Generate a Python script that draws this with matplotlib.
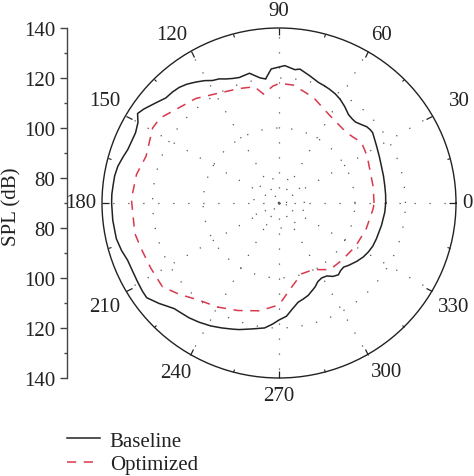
import numpy as np
import matplotlib
matplotlib.use("Agg")
import matplotlib.pyplot as plt

plt.rcParams['font.family'] = ['Liberation Serif', 'DejaVu Serif']

# curvas (grados, dB)
ang_base = [0, 4.6, 9.3, 14.6, 20, 25, 30.5, 34, 37.2, 39, 41.3, 44, 47, 49.5, 52.2, 56, 59.7, 63, 66.3, 69, 72.1,
            76.5, 81.2, 83.3, 87.6, 90.4, 93.3, 96.1, 98.5, 102.7, 107.4, 110.3, 113, 115.5, 118.2, 121, 124.2,
            127.5, 130.5, 133.5, 136.8, 140, 143, 145, 147.4, 150, 153.7, 157, 160.3, 163.5, 167, 170.5, 174, 177,
            180, 186, 192.5, 197, 200.9, 205, 209.4, 213, 215.9, 220.2, 225.5, 232.2, 236.5, 241.2, 245.5, 250,
            252.8, 258, 263.5, 267, 270, 273.7, 277, 280.8, 284, 287.4, 293, 296, 299.4, 303, 306, 309.3, 312,
            314.9, 318, 322.8, 327, 331, 335, 339.7, 347.5, 355]
spl_base = [112.2, 112.3, 112.4, 112.7, 113.1, 113.8, 114.8, 115.6, 116.5, 116.5, 116.2, 115.2, 114.3, 114.4, 114.8,
            116.5, 118, 119, 119.7, 120.2, 120.7, 122.3, 124.2, 123.7, 125, 124.3, 123.7, 119.9, 120.6, 123.2,
            122.6, 123.1, 123.9, 125, 125.6, 127.1, 128.5, 129.9, 130.8, 131.2, 131.4, 132.8, 134.3, 135.4, 136.4,
            134.4, 133.3, 133.3, 133.5, 134.4, 135.4, 135.9, 136, 136.2, 136.2, 136.1, 135.9, 135.1, 134.1, 134,
            134.2, 134.5, 134.6, 132.2, 129.2, 128.1, 127.2, 126.1, 124.9, 123.7, 123, 121.5, 120.3, 118.5, 116.8,
            115.4, 112.8, 110.4, 109.6, 108.7, 106.5, 105, 104.4, 104.8, 106.3, 107.1, 106.4, 106.2, 107.2, 108.6,
            109.7, 110.4, 110.9, 111.1, 111.5, 112]

ang_opt = [0, 10.4, 28.3, 36.4, 46.4, 59.9, 72.2, 83.2, 89.7, 93, 98, 101.8, 108.9, 119.7, 128.2, 136, 144.1, 149,
           160.4, 168.5, 178.4, 192, 198.5, 207.3, 216, 222.7, 230.9, 239.7, 249.2, 259.9, 268.5, 271.3, 278.3,
           287.4, 296.9, 307.1, 317.2, 329.7, 333.5, 343.4, 356.4]
spl_opt = [107.6, 107.8, 109.6, 110.6, 108.8, 110.3, 114.4, 117.5, 117.9, 116.8, 114, 117.5, 118.4, 120.3, 123.2,
           124.9, 128, 128.3, 125.8, 127.5, 128.4, 128.3, 127.5, 127, 127, 123.8, 120.1, 118.2, 116, 113.8, 111.1,
           109.5, 104.1, 99.7, 99.9, 103.4, 103.8, 104.8, 105, 106, 107.3]

angulos = [0, 30, 60, 90, 120, 150, 180, 210, 240, 270, 300, 330]
angulos_menores = [15, 45, 75, 105, 135, 165, 195, 225, 255, 285, 315, 345]
anillos = [73, 80, 100, 120]
ticks_spl = [-70, -50, -30, -10, 10, 30, 50, 70]
etiquetas_spl = ['140', '120', '100', '80', '80', '100', '120', '140']
ticks_spl_menores = [-60, -40, -20, 0, 20, 40, 60]

W, H = 474, 477
fig = plt.figure(figsize=(W / 100, H / 100), dpi=100)

ax = fig.add_axes([102 / W, 1 - 379 / H, 354 / W, 350 / H], projection='polar')
ax.set_aspect('auto')

linea1, = ax.plot(np.radians(ang_base + ang_base[:1]), spl_base + spl_base[:1], color='#222222', lw=1.1, label='Baseline')
linea2, = ax.plot(np.radians(ang_opt + ang_opt[:1]), spl_opt + spl_opt[:1], color='#d8394c', lw=1.1,
                  dashes=(6, 5), label='Optimized')

ax.set_rlim(70, 140)
ax.set_yticks(anillos)
ax.set_yticklabels([])
ax.set_xticks(np.radians(angulos))
ax.set_xticklabels([])
ax.set_xticks(np.radians(angulos_menores), minor=True)
ax.tick_params(axis='x', which='major', direction='in', length=5, width=0.9, color='#222222', bottom=False, top=True)
ax.tick_params(axis='x', which='minor', direction='in', length=2.5, width=0.8, color='#222222', bottom=False, top=True)
ax.grid(True, color='#555555', lw=0.9, ls=(0, (1, 11)))
ax.spines['polar'].set_linewidth(1.0)
ax.spines['polar'].set_color('#222222')

# eje izquierdo de SPL
ax2 = fig.add_axes([67 / W, 1 - 379 / H, 1 / W, 350 / H])
ax2.patch.set_visible(False)
for lado in ['top', 'right', 'bottom']:
    ax2.spines[lado].set_visible(False)
ax2.spines['left'].set_linewidth(1.0)
ax2.spines['left'].set_color('#444444')
ax2.set_xticks([])
ax2.set_ylim(-70, 70)
ax2.set_yticks(ticks_spl)
ax2.set_yticklabels(etiquetas_spl, fontsize=15, color='#222222')
ax2.set_yticks(ticks_spl_menores, minor=True)
ax2.tick_params(axis='y', which='major', length=5, width=1.0, color='#444444', pad=3.5)
ax2.tick_params(axis='y', which='minor', length=2.5, width=1.0, color='#444444')

fig.text(12 / W, 1 - 207 / H, 'SPL (dB)', rotation=90, fontsize=15, color='#222222', ha='center', va='center')

# etiquetas de angulo en pixeles de la figura
etiquetas_x = [467, 459, 382, 279, 172, 105, 81, 105, 176, 279, 387, 454]
etiquetas_y = [204, 102, 35, 12, 35, 102, 204, 307, 374, 397, 373, 307]
for a, x, y in zip(angulos, etiquetas_x, etiquetas_y):
    fig.text(x / W, 1 - y / H, str(a), fontsize=15, color='#222222', ha='center', va='center')

fig.legend(handles=[linea1, linea2], loc='upper left', bbox_to_anchor=(67 / W, 1 - 432 / H), frameon=False,
           fontsize=15, handlelength=1.6, handletextpad=0.45, labelspacing=0.2, borderpad=0, borderaxespad=0,
           labelcolor='#222222')

fig.savefig('out.png', dpi=100)
